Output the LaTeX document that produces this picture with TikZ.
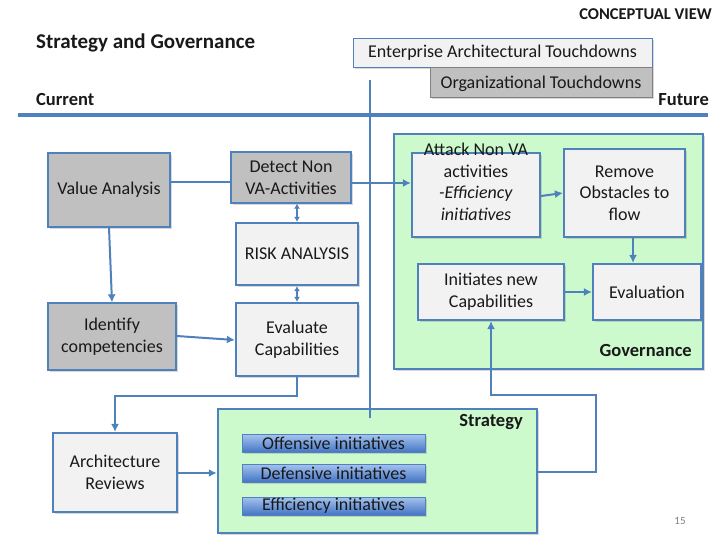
\documentclass[tikz,border=0pt]{standalone}
\usepackage{fontspec}
\setmainfont{Carlito}
\usetikzlibrary{arrows.meta,shadows}
\definecolor{lblue}{RGB}{79,129,189}
\definecolor{gfill}{RGB}{192,192,192}
\definecolor{lfill}{RGB}{242,242,242}
\definecolor{green1}{RGB}{204,250,204}
\definecolor{itop}{RGB}{165,195,238}
\definecolor{ibot}{RGB}{66,116,196}
\begin{document}
\begin{tikzpicture}[x=1pt,y=-1pt,
  every node/.style={font=\fontsize{18}{21.6}\selectfont, text=black!90, inner sep=2pt, align=center},
  shad/.style={drop shadow={shadow xshift=1.5pt,shadow yshift=-1.5pt,opacity=0.3}},
  box/.style={draw=lblue, line width=1.5pt, shad},
  graybox/.style={box, fill=gfill, line width=1.3pt},
  lightbox/.style={box, fill=lfill, line width=2.2pt},
  greenbox/.style={box, fill=green1, line width=2.5pt},
  initbox/.style={draw=lblue, line width=0.6pt, top color=itop, bottom color=ibot, minimum width=183, minimum height=18, inner sep=0pt, shad},
  conn/.style={draw=lblue, line width=2pt},
  arr/.style={conn, -{Latex[length=8pt,width=8pt]}},
  darr/.style={conn, {Latex[length=5pt,width=6pt]}-{Latex[length=5pt,width=6pt]}},
  bold/.style={font=\fontsize{18.5}{22}\selectfont\bfseries}
]
\useasboundingbox[fill=white] (0,0) rectangle (728,546);

% titles
\node[font=\fontsize{16.5}{19}\selectfont\bfseries, anchor=east] (cv) at (714,14) {CONCEPTUAL VIEW};
\node[font=\fontsize{21}{25}\selectfont\bfseries, anchor=west] (sg) at (34,43) {Strategy and Governance};
\node[bold, anchor=west] (cur) at (34,100) {Current};
\node[bold, anchor=east] (fut) at (711,100) {Future};

% touchdowns
\node[draw=lblue, line width=0.8pt, fill=lfill, minimum width=299, minimum height=29, shad] (eat) at (502.5,52.5) {Enterprise Architectural Touchdowns};
\node[draw=gray, line width=0.8pt, fill=gfill, minimum width=222, minimum height=30, shad, text depth=0pt] (ot) at (541,82) {Organizational Touchdowns};

% timeline
\coordinate (tl) at (18,115);
\coordinate (tr) at (708,115);
\draw[lblue, line width=4.5pt] (tl) -- (tr);

% containers
\node[greenbox, minimum width=309, minimum height=235] (gov) at (548.5,251.5) {};
\node[bold, anchor=east] (govl) at (694,350) {Governance};
\node[greenbox, minimum width=319, minimum height=124] (st) at (377.5,471) {};
\node[bold, anchor=east] (stl) at (525,422) {Strategy};

% left column
\node[graybox, minimum width=122, minimum height=74] (va) at (109,190) {Value Analysis};
\node[graybox, minimum width=120, minimum height=51] (dn) at (291,177.5) {Detect Non\\VA-Activities};
\node[lightbox, minimum width=122, minimum height=62] (ra) at (297,254) {RISK ANALYSIS};
\node[lightbox, minimum width=122, minimum height=73] (ev) at (297,339.5) {Evaluate\\Capabilities};
\node[graybox, minimum width=128, minimum height=67] (ic) at (112,336.5) {Identify\\competencies};
\node[lightbox, minimum width=124, minimum height=79] (ar) at (115,472.5) {Architecture\\Reviews};

% initiatives
\node[initbox] (off) at (333.5,443.5) {Offensive initiatives};
\node[initbox] (def) at (333.5,473) {Defensive initiatives};
\node[initbox] (eff) at (333.5,506) {Efficiency initiatives};

% governance content
\node[lightbox, minimum width=128, minimum height=84] (at) at (476,195) {};
\node (attx) at (476,182) {Attack Non VA\\activities\\\textit{-Efficiency}\\\textit{initiatives}};
\node[lightbox, minimum width=121, minimum height=88] (ro) at (624.5,193) {Remove\\Obstacles to\\flow};
\node[lightbox, minimum width=108, minimum height=56] (evl) at (647,292) {Evaluation};
\node[lightbox, minimum width=146, minimum height=56] (in) at (491,292) {Initiates new\\Capabilities};

% vertical divider
\coordinate (vt) at (370,80);
\coordinate (vb) at (370,418);
\draw[lblue, line width=2.5pt] (vt) -- (vb);

% connectors
\draw[conn] (va.east |- 0,182) -- (dn.west |- 0,182);
\draw[arr] (dn.east |- 0,183) -- (at.west |- 0,183);
\draw[arr] (va.south) -- (ic.north);
\draw[arr] (ic.east |- 0,336) -- (ev.west |- 0,340);
\draw[darr] (ra.north) -- (ra.north |- dn.south);
\draw[darr] (ev.north) -- (ra.south);
\draw[arr] (ev.south) -- (297,396) -| (ar.north);
\draw[arr] (ar.east |- 0,473) -- (st.west |- 0,473);
\draw[arr] (st.east |- 0,472) -| (596,395) -| (in.south);
\draw[arr] (at.east |- 0,196) -- (ro.west |- 0,193);
\draw[arr] (ro.south -| 633,0) -- (evl.north -| 633,0);
\draw[arr] (in.east) -- (evl.west);

% page number
\node[font=\fontsize{11}{13}\selectfont, text=gray] (pg) at (680,521) {15};
\end{tikzpicture}
\end{document}
